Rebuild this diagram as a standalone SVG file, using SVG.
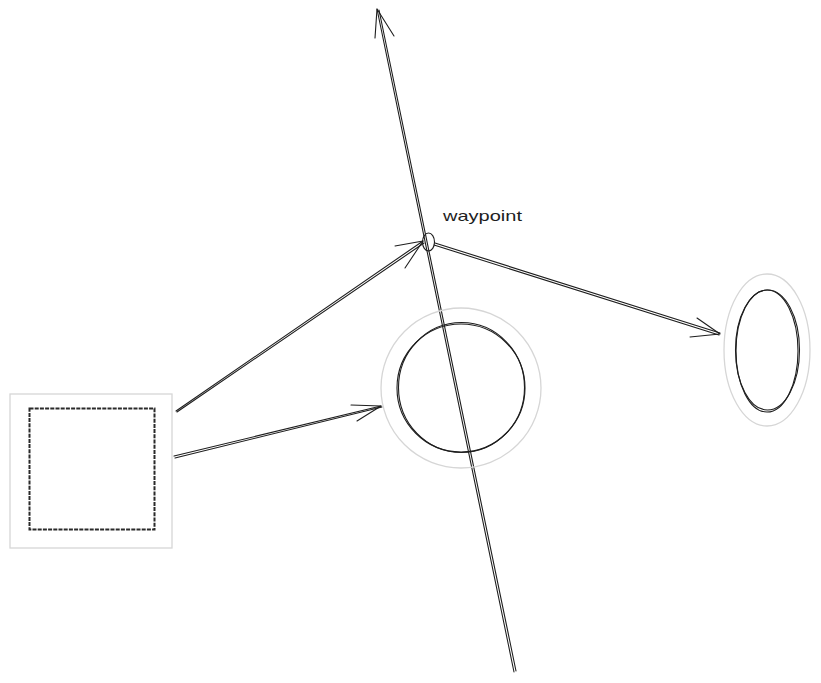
<svg xmlns="http://www.w3.org/2000/svg" width="821" height="683" viewBox="0 0 821 683">
<style>
.bg{fill:#ffffff}
.halo{fill:none;stroke:#d6d6d6;stroke-width:1.3}
.ink{fill:none;stroke:#1e1e1e;stroke-width:1.1;stroke-linecap:round;stroke-linejoin:round}
.dash{fill:none;stroke:#2a2a2a;stroke-width:2;stroke-dasharray:4 1.2}
.lbl{font-family:"Liberation Sans","DejaVu Sans",sans-serif;font-size:15px;fill:#1e1e1e}
</style>
<rect class="bg" x="0" y="0" width="821" height="683"/>
<g id="connectors">
  <path class="ink" d="M514 672 L377 9 M516 671 L379 10"/>
  <path class="ink" d="M375 38 L377 9 L394 36"/>
  <path class="ink" d="M176 411 L423 241 M177 412 L424 243"/>
  <path class="ink" d="M395 246 L423 241 L405 268"/>
  <path class="ink" d="M174 456 L381 406 M175 458 L382 407"/>
  <path class="ink" d="M351 405 L381 406 L357 421"/>
  <path class="ink" d="M435 243 L720 333 M434 245 L719 335"/>
  <path class="ink" d="M697 318 L720 334 L690 337"/>
</g>
<g id="node-square">
  <rect class="halo" x="10" y="394" width="162" height="154"/>
  <rect class="dash" x="29.5" y="408.5" width="125" height="121"/>
</g>
<g id="node-circle">
  <circle class="halo" cx="461" cy="388" r="80"/>
  <circle class="ink" cx="461" cy="388" r="64"/>
  <ellipse class="ink" cx="461.5" cy="387.5" rx="63" ry="65"/>
</g>
<g id="node-ellipse">
  <ellipse class="halo" cx="767" cy="350" rx="43" ry="76"/>
  <ellipse class="ink" cx="767.5" cy="350" rx="32" ry="60"/>
  <ellipse class="ink" cx="767" cy="351" rx="31" ry="61"/>
</g>
<g id="node-waypoint">
  <ellipse class="ink" cx="428.5" cy="242" rx="6" ry="9"/>
  <text class="lbl" x="443" y="221" textLength="79" lengthAdjust="spacingAndGlyphs">waypoint</text>
</g>
</svg>
